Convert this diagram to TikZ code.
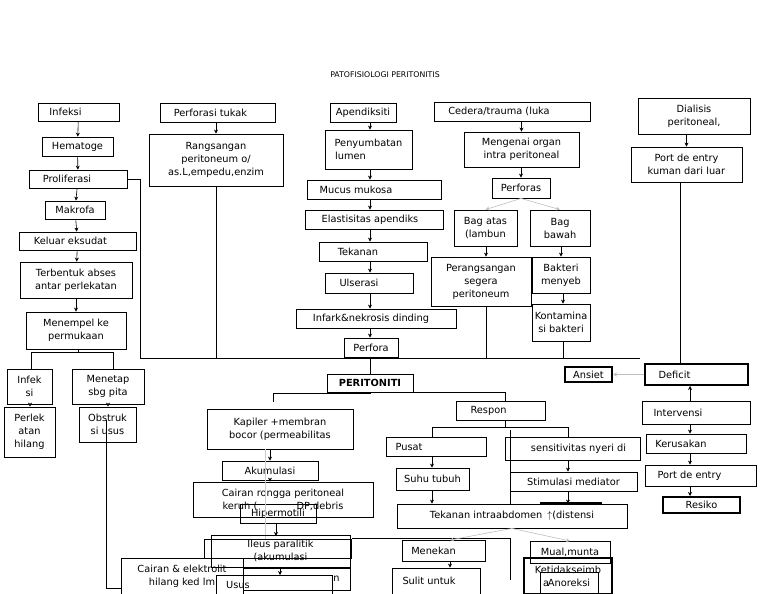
\documentclass[tikz,border=0pt]{standalone}
\usepackage{fontspec}
\setmainfont{DejaVu Sans}
\usetikzlibrary{arrows.meta}
\newcommand\bx[7][]{\node[box,minimum width={(#5-#3)*1pt},minimum height={(#6-#4)*1pt},#1] (#2) at ({(#3+#5)/2},{(#4+#6)/2}) {#7};}
\begin{document}
\begin{tikzpicture}[x=1pt,y=-1pt,
 box/.style={draw,line width=0.8pt,inner sep=1pt,align=center,font=\fontsize{9.8}{13}\selectfont},
 tb/.style={line width=2pt},
 arr/.style={-{Stealth[length=4pt,width=4pt]},line width=0.6pt},
 ln/.style={line width=0.6pt}]
\useasboundingbox (0,0) rectangle (768,594);
\node[font=\fontsize{7.8}{9}\selectfont] (title) at (385,75) {PATOFISIOLOGI PERITONITIS};
% left column
\bx{inf}{38}{103}{119}{121}{Infeksi\hspace*{26pt}}
\bx{hem}{42}{137}{113}{156}{Hematoge}
\bx{pro}{29}{170}{127}{188}{Proliferasi\hspace*{22pt}}
\bx{mak}{45}{201}{105}{219}{Makrofa}
\bx{kel}{19}{232}{136}{250}{Keluar eksudat\hspace*{14pt}}
\bx{ter}{20}{262}{132}{298}{Terbentuk abses\\antar perlekatan}
\bx{men}{26}{312}{126}{349}{Menempel ke\\permukaan}
\bx{ifs}{7}{369}{52}{404}{Infek\\si}
\bx{met}{72}{369}{144}{404}{Menetap\\sbg pita}
\bx{per}{4}{407}{55}{457}{Perlek\\atan\\hilang}
\bx{obs}{79}{407}{136}{442}{Obstruk\\si usus}
\draw[arr] (inf) -- (hem); \draw[arr] (hem) -- (pro); \draw[arr] (pro) -- (mak);
\draw[arr] (mak) -- (kel); \draw[arr] (kel) -- (ter); \draw[arr] (ter.south) -- (ter.south |- men.north);
\draw[ln] (men.south -| 78,0) -- (78,352) coordinate (b1);
\draw[ln] (31,352) -- (113,352); \draw[ln] (31,352) -- (31,369); \draw[ln] (113,352) -- (113,369);
\draw[arr] (ifs.south -| 30,0) -- (per.north -| 30,0);
\draw[arr] (met.south -| 108,0) -- (obs.north -| 108,0);
% perforasi
\bx{pt}{160}{103}{275}{122}{Perforasi tukak\hspace*{14pt}}
\bx{rg}{149}{134}{283}{186}{Rangsangan\\peritoneum o/\\as.L,empedu,enzim}
\draw[arr] (pt.south -| rg.north) -- (rg.north);
% apendik
\bx{ap}{330}{103}{396}{122}{Apendiksiti}
\bx{pl}{325}{130}{412}{169}{Penyumbatan\\lumen\hspace*{36pt}}
\bx{mu}{307}{180}{441}{199}{Mucus mukosa\hspace*{36pt}}
\bx{el}{305}{210}{443}{229}{Elastisitas apendiks\hspace*{8pt}}
\bx{tk}{319}{242}{427}{261}{Tekanan\hspace*{30pt}}
\bx{ul}{325}{273}{413}{293}{Ulserasi\hspace*{20pt}}
\bx{ik}{296}{309}{456}{328}{Infark\&nekrosis dinding\hspace*{10pt}}
\bx{pf}{344}{338}{398}{357}{Perfora}
\foreach \a/\b in {ap/pl,pl/mu,mu/el,el/tk,tk/ul,ul/ik,ik/pf}{\draw[arr] (\a.south -| 370,0) -- (\b.north -| 370,0);}
% cedera
\bx{ce}{434}{102}{590}{121}{Cedera/trauma (luka\hspace*{26pt}}
\bx{mo}{464}{132}{579}{167}{Mengenai organ\\intra peritoneal}
\bx{pr}{492}{178}{550}{198}{Perforas}
\bx{ba}{454}{210}{517}{246}{Bag atas\\(lambun}
\bx{bb}{530}{210}{590}{246}{Bag\\bawah}
\bx{pg}{431}{257}{531}{306}{Perangsangan\\segera\\peritoneum}
\bx{bm}{532}{257}{590}{293}{Bakteri\\menyeb}
\bx{ko}{532}{304}{590}{341}{Kontamina\\si bakteri}
\draw[arr] (ce.south -| mo.north) -- (mo.north); \draw[arr] (mo.south -| pr.north) -- (pr.north);
\draw[arr,gray!50] (pr.south) -- (ba.north); \draw[arr,gray!50] (pr.south) -- (bb.north);
\draw[arr] (ba.south -| 486,0) -- (pg.north -| 486,0);
\draw[arr] (bb.south -| 561,0) -- (bm.north -| 561,0);
\draw[arr] (bm.south -| 563,0) -- (ko.north -| 563,0);
% dialisis
\bx{di}{638}{98}{750}{134}{Dialisis\\peritoneal,}
\bx{po}{631}{147}{742}{182}{Port de entry\\kuman dari luar}
\draw[arr] (di.south -| po.north) -- (po.north);
% collector
\draw[ln] (pro.east) -- (140,179) -- (140,358) -- (640,358);
\draw[ln] (rg.south -| 216,0) -- (216,358);
\draw[ln] (pg.south -| 486,0) -- (486,358);
\draw[ln] (ko.south -| 563,0) -- (563,358);
% peritoniti
\bx[font=\bfseries\fontsize{9.8}{13}\selectfont]{pe}{327}{374}{413}{392}{PERITONITI}
\draw[ln] (pf.south -| 370,0) -- (pe.north -| 370,0);
\draw[ln] (pe.south -| 370,0) -- (370,393) -- (273,393) -- (273,402);
\draw[ln] (pe.east |- 0,392) -- (505,392) -- (505,401);
% left lower
\bx{ka}{207}{409}{353}{449}{Kapiler +membran\\bocor (permeabilitas}
\bx{ak}{222}{461}{318}{480}{Akumulasi}
\bx{cr}{193}{482}{373}{517}{Cairan rongga peritoneal\\keruh (\quad\quad\quad\quad DP,debris}
\bx{hi}{240}{504}{316}{523}{Hipermotili}
\draw[ln,gray!40] (265,449) -- (265,540);
\draw[arr] (ka.south -| 270,0) -- (ak.north -| 270,0);
\draw[arr] (ak.south -| 270,0) -- (cr.north -| 270,0);
\draw[arr] (hi.south -| 276,0) -- (276,536);
\draw[ln] (106,420) -- (106,588) -- (121,588);
\node[box,minimum width=147pt,minimum height=19pt] (ilb) at (278,549) {};
\draw[ln] (352,538) -- (510,538);
\bx{il}{211}{535}{350}{567}{Ileus paralitik\\(akumulasi}
\bx{ce2}{121}{558}{243}{594}{Cairan \& elektrolit\\hilang ked lm}
\bx{bk}{243}{568}{350}{590}{\hspace*{80pt}n}
\bx{us}{216}{575}{332}{594}{Usus\hspace*{72pt}}
\draw[arr] (il.south -| 280,0) -- (280,575);
% respon branch
\bx{re}{456}{401}{545}{420}{Respon\hspace*{24pt}}
\bx{pu}{386}{437}{486}{456}{Pusat\hspace*{54pt}}
\bx{se}{505}{437}{640}{460}{\hspace*{12pt}sensitivitas nyeri di}
\bx{su}{396}{468}{469}{490}{Suhu tubuh}
\bx{st}{510}{472}{637}{491}{Stimulasi mediator}
\draw[ln] (re.south -| 505,0) -- (505,427);
\draw[ln] (432,437) -- (432,427) -- (568,427) -- (568,437);
\draw[arr] (pu.south -| 432,0) -- (su.north -| 432,0);
\draw[arr] (se.south -| 568,0) -- (st.north -| 568,0);
\draw[line width=2pt] (540,503) -- (602,503);
\bx{ti}{397}{504}{627}{528}{Tekanan intraabdomen\enspace{$\uparrow$}(distensi}
\draw[ln] (510,430) -- (510,504);
\draw[arr] (su.south -| 432,0) -- (ti.north -| 432,0);
\draw[arr] (st.south -| 568,0) -- (ti.north -| 568,0);
\bx{mn}{402}{540}{485}{561}{Menekan\hspace*{20pt}}
\bx{sl}{392}{568}{480}{594}{Sulit untuk\hspace*{14pt}}
\bx[tb]{kt}{524}{558}{612}{594}{Ketidakseimb\\a\hspace*{44pt}}
\bx{mm}{530}{541}{610}{563}{Mual,munta}
\bx{an}{540}{572}{598}{594}{Anoreksi}
\draw[ln] (510,538) -- (510,580);
\draw[arr,gray!50] (ti.south) -- (450,540);
\draw[arr,gray!50] (ti.south) -- (570,541);
\draw[arr] (mn.south -| 450,0) -- (sl.north -| 450,0);
% right lower
\bx[tb]{as}{565}{367}{612}{382}{Ansiet}
\bx[tb]{de}{645}{364}{748}{385}{Deficit\hspace*{44pt}}
\bx{iv}{642}{401}{750}{424}{Intervensi\hspace*{36pt}}
\bx{ku}{646}{434}{746}{453}{Kerusakan\hspace*{30pt}}
\bx{pe2}{645}{465}{756}{486}{Port de entry\hspace*{22pt}}
\bx[tb]{rs}{663}{497}{740}{513}{Resiko}
\draw[ln] (po.south -| 680,0) -- (de.north -| 680,0);
\draw[arr,gray!50] (de.west) -- (as.east);
\draw[arr] (iv.north -| 690,0) -- (de.south -| 690,0);
\draw[arr] (iv.south -| 690,0) -- (ku.north -| 690,0);
\draw[arr] (ku.south -| 690,0) -- (pe2.north -| 690,0);
\draw[arr] (pe2.south -| 690,0) -- (rs.north -| 690,0);
\end{tikzpicture}
\end{document}
